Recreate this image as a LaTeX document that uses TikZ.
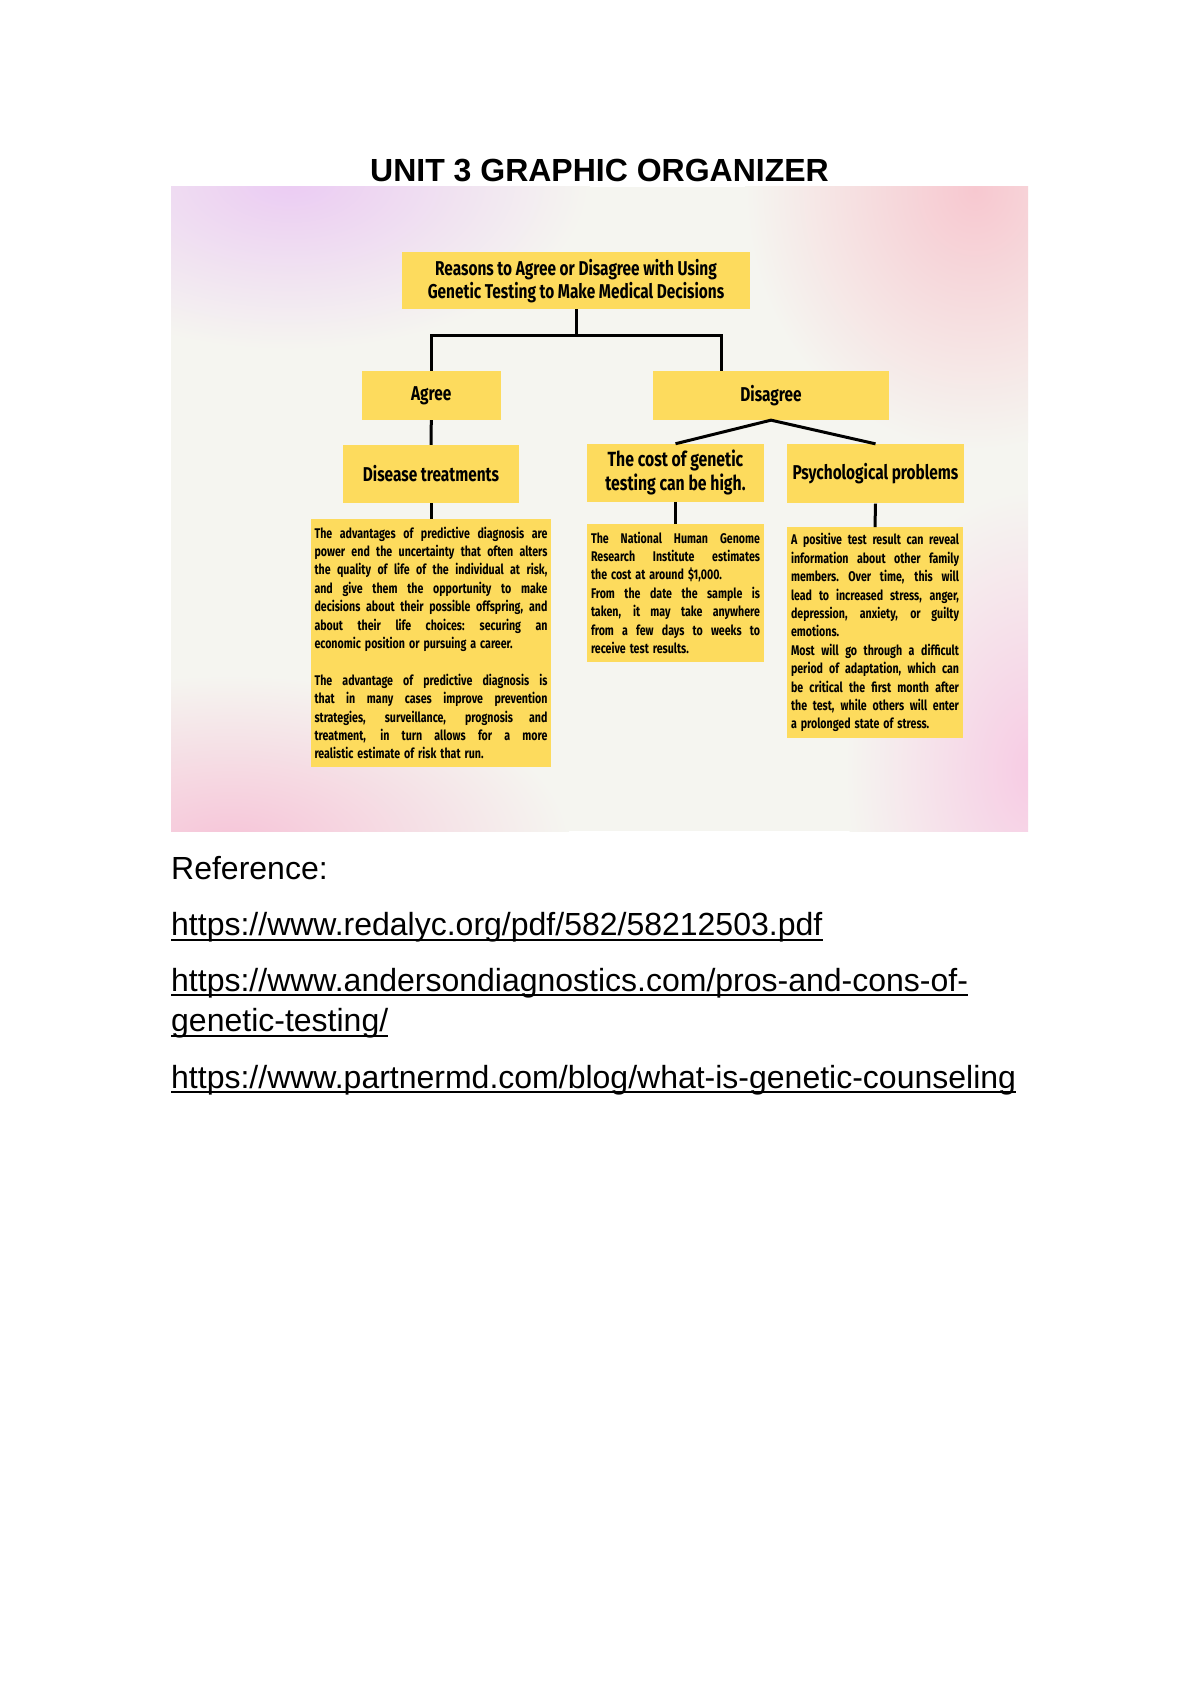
\documentclass[tikz,border=0pt]{standalone}
\usepackage{fontspec}
\setmainfont{Liberation Sans}
\newfontfamily\hfont[FakeStretch=0.77]{Fira Sans}
\newfontfamily\bfont[FakeStretch=0.76]{Fira Sans}
\usetikzlibrary{calc}
\definecolor{boxy}{HTML}{FDDB5D}
\definecolor{bgc}{HTML}{F5F5F0}
\definecolor{lilac}{HTML}{EBCBF3}
\definecolor{pinkA}{HTML}{F7C8D0}
\definecolor{pinkB}{HTML}{F6C4D8}
\definecolor{pinkC}{HTML}{F7CBE4}
\newcommand{\jsetup}{\tolerance=10000\hbadness=10000\hyphenpenalty=10000\exhyphenpenalty=10000\parfillskip=0pt plus 1fil\spaceskip=4pt plus 8pt minus 1.3pt\xspaceskip=4.5pt plus 8pt minus 1.3pt\relax}
\begin{document}
\begin{tikzpicture}[x=1pt,y=-1pt,
  ybox/.style={fill=boxy, inner sep=0pt, align=center, font=\hfont\bfseries\fontsize{20}{23}\selectfont},
  tbox/.style={fill=boxy, inner ysep=0pt, align=justify, font=\bfont\bfseries\fontsize{14}{18.4}\selectfont},
  conn/.style={line width=3pt, black},
  link/.style={anchor=base west, inner sep=0pt, font=\fontsize{32}{38}\selectfont},
  uline/.style={line width=2pt, black},
]
\useasboundingbox[fill=white] (0,0) rectangle (1200,1696);

% background panel
\fill[bgc] (171,187) rectangle (1028,831);
\begin{scope}
  \clip (171,187) rectangle (1028,831);
  \shade[inner color=lilac, outer color=bgc] (290,180) ellipse (300 and 170);
  \shade[inner color=pinkA, outer color=bgc] (975,190) ellipse (230 and 260);
  \shade[inner color=pinkB, outer color=bgc] (230,845) ellipse (340 and 170);
  \shade[inner color=pinkC, outer color=bgc] (1035,770) ellipse (190 and 280);
\end{scope}

% title
\node[anchor=base, inner sep=0pt, font=\bfseries\fontsize{32}{38}\selectfont] (title) at (599.5,182) {UNIT 3 GRAPHIC ORGANIZER};

% boxes
\node[ybox, minimum width=348, minimum height=56.5] (top) at (576,280.7)
  {Reasons to Agree or Disagree with Using\\Genetic Testing to Make Medical Decisions};
\node[ybox, minimum width=138.7, minimum height=49] (agree) at (431.3,395.5) {Agree};
\node[ybox, minimum width=236.6, minimum height=49.3] (disagree) at (771,395.3) {Disagree};
\node[ybox, minimum width=176.6, minimum height=58] (disease) at (431,474) {Disease treatments};
\node[ybox, minimum width=176.5, minimum height=57.7, font=\hfont\bfseries\fontsize{20.5}{24}\selectfont] (cost) at (675.5,472.8)
  {The cost of genetic\\testing can be high.};
\node[ybox, minimum width=177.6, minimum height=59.3] (psych) at (875.5,473.7) {Psychological problems};

\node[tbox, text width=233, inner xsep=3.5, minimum height=247.4] (atext) at (431,643) {\jsetup
The advantages of predictive diagnosis are\linebreak
power end the uncertainty that often alters\linebreak
the quality of life of the individual at risk,\linebreak
and give them the opportunity to make\linebreak
decisions about their possible offspring, and\linebreak
about their life choices: securing an\linebreak
economic position or pursuing a career.\\[18.4pt]
The advantage of predictive diagnosis is\linebreak
that in many cases improve prevention\linebreak
strategies, surveillance, prognosis and\linebreak
treatment, in turn allows for a more\linebreak
realistic estimate of risk that run.};

\node[tbox, text width=169, inner xsep=4, minimum height=137.7] (ctext) at (675.5,592.8) {\jsetup
The National Human Genome\linebreak
Research Institute estimates\linebreak
the cost at around \$1,000.\\
From the date the sample is\linebreak
taken, it may take anywhere\linebreak
from a few days to weeks to\linebreak
receive test results.};

\node[tbox, text width=168, inner xsep=3.7, minimum height=210.7] (ptext) at (875,632.7) {\jsetup
A positive test result can reveal\linebreak
information about other family\linebreak
members. Over time, this will\linebreak
lead to increased stress, anger,\linebreak
depression, anxiety, or guilty\linebreak
emotions.\\
Most will go through a difficult\linebreak
period of adaptation, which can\linebreak
be critical the first month after\linebreak
the test, while others will enter\linebreak
a prolonged state of stress.};

% connectors
\coordinate (hr) at (721,335);
\coordinate (dtap) at (721,371);
\draw[conn] (top.south) -- (top.south |- hr);
\draw[conn] (agree.north) |- (hr) -- (dtap);
\draw[conn] (agree.south) -- (disease.north);
\draw[conn] (disease.south) -- (atext.north);
\draw[conn] (cost.north) -- (disagree.south) -- (psych.north);
\draw[conn] (cost.south) -- (ctext.north);
\draw[conn] (psych.south) -- (ptext.north);

% references
\node[link] (refl) at (171,879) {Reference:};
\node[link] (l1) at (171,935.5) {https://www.redalyc.org/pdf/582/58212503.pdf};
\node[link] (l2) at (171,991) {https://www.andersondiagnostics.com/pros-and-cons-of-};
\node[link] (l2b) at (171,1031.5) {genetic-testing/};
\node[link] (l3) at (171,1088) {https://www.partnermd.com/blog/what-is-genetic-counseling};
\draw[uline] ([yshift=-4pt]l1.base west) -- ([yshift=-4pt]l1.base east);
\draw[uline] ([yshift=-4pt]l2.base west) -- ([yshift=-4pt]l2.base east);
\draw[uline] ([yshift=-4pt]l2b.base west) -- ([yshift=-4pt]l2b.base east);
\draw[uline] ([yshift=-4pt]l3.base west) -- ([yshift=-4pt]l3.base east);
\end{tikzpicture}
\end{document}
